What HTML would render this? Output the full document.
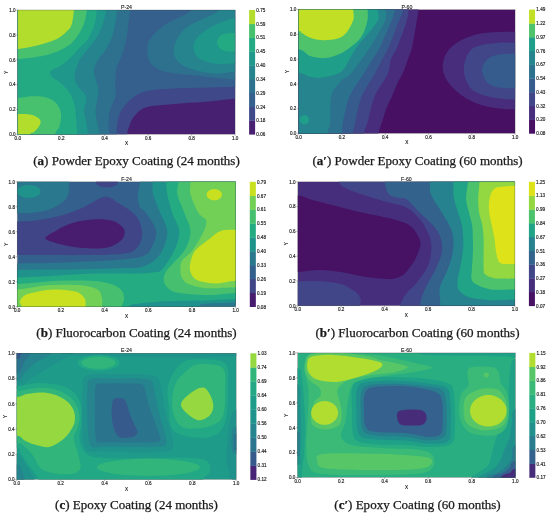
<!DOCTYPE html>
<html><head><meta charset="utf-8"><style>
html,body{margin:0;padding:0;background:#fff;}
body{width:550px;height:517px;position:relative;overflow:hidden;}
svg{position:absolute;left:0;top:0;}
.tk{font-family:"Liberation Sans",sans-serif;font-size:4.6px;fill:#1a1a1a;stroke:#1a1a1a;stroke-width:0.15px;}
.tt{font-family:"Liberation Sans",sans-serif;font-size:5.2px;fill:#1a1a1a;stroke:#1a1a1a;stroke-width:0.12px;}
.cap{position:absolute;font-family:"Liberation Serif","DejaVu Serif",serif;font-size:12px;color:#1a1a1a;-webkit-text-stroke:0.25px #1a1a1a;white-space:nowrap;text-align:center;letter-spacing:0px;transform:scaleX(1.085);transform-origin:center;}
.cap b{font-weight:bold;}
</style></head><body>
<svg width="550" height="517" viewBox="0 0 550 517">
<clipPath id="ca"><rect x="17.8" y="10" width="217.3" height="124.3"/></clipPath>
<g clip-path="url(#ca)">
<rect x="17.8" y="10" width="217.3" height="124.3" fill="#482071"/>
<path fill="#3f4889" d="M235.1,98.8C226.4,99.2 217.7,100.6 209.0,101.4C200.3,102.1 190.9,102.6 182.9,103.2C175.0,103.8 167.0,104.5 161.2,105.1C155.4,105.7 151.8,105.8 148.2,106.7C144.6,107.6 142.0,108.8 139.5,110.7C137.0,112.6 134.7,115.4 133.0,118.1C131.2,120.8 130.0,124.1 129.1,126.8C128.1,129.5 127.4,130.6 127.1,134.3C126.8,138.0 127.1,149.2 127.1,149.2L-8.3,149.2L-8.3,-4.9L261.2,-4.9L261.2,98.8C261.2,98.8 243.8,98.3 235.1,98.8Z"/>
<path fill="#355f8d" d="M235.1,86.8C226.5,86.9 220.6,87.3 209.7,87.6C198.8,87.9 179.9,88.1 169.7,88.7C159.5,89.2 154.2,89.6 148.4,90.8C142.6,92.0 138.9,93.7 135.1,96.0C131.4,98.3 128.3,101.6 125.8,104.5C123.3,107.3 121.3,110.1 119.9,113.2C118.5,116.3 117.9,119.6 117.3,123.1C116.8,126.6 116.8,129.9 116.7,134.3C116.6,138.7 116.7,149.2 116.7,149.2L-8.3,149.2L-8.3,-4.9L261.2,-4.9L261.2,86.8C261.2,86.8 243.7,86.7 235.1,86.8Z"/>
<path fill="#2d718e" d="M130.1,10.0C129.8,15.0 128.8,20.1 128.2,24.9C127.6,29.7 127.5,34.0 126.5,39.0C125.4,43.9 123.8,49.9 122.1,54.7C120.4,59.6 117.5,64.0 116.5,67.9C115.4,71.9 115.8,75.4 115.6,78.4C115.4,81.3 115.2,82.9 115.2,85.8C115.2,88.8 116.4,92.1 115.6,96.0C114.8,100.0 111.3,105.1 110.2,109.4C109.0,113.7 108.8,117.7 108.6,121.9C108.5,126.0 109.0,129.7 109.1,134.3C109.1,138.9 109.1,149.2 109.1,149.2L-8.3,149.2L-8.3,-4.9L130.1,-4.9C130.1,-4.9 130.5,5.0 130.1,10.0Z"/>
<path fill="#2d718e" d="M191.6,10.0C187.4,14.8 172.9,19.2 166.0,23.9C159.1,28.7 153.5,34.2 150.4,38.6C147.2,43.0 147.2,46.2 147.3,50.4C147.4,54.6 148.1,60.1 151.0,63.6C153.9,67.1 156.9,69.5 164.5,71.5C172.0,73.5 184.4,74.2 196.2,75.5C208.0,76.9 224.3,78.9 235.1,79.6C245.9,80.3 261.2,79.6 261.2,79.6L261.2,-4.9L191.6,-4.9C191.6,-4.9 195.9,5.2 191.6,10.0Z"/>
<path fill="#25848e" d="M117.1,10.0C116.7,15.0 115.9,20.1 114.9,24.9C114.0,29.7 112.9,34.6 111.2,39.0C109.5,43.3 106.9,47.6 104.7,51.0C102.5,54.5 100.0,56.6 98.2,59.7C96.4,62.8 94.3,66.6 93.9,69.7C93.4,72.8 94.7,75.3 95.4,78.4C96.1,81.5 97.8,85.2 98.2,88.3C98.6,91.4 98.2,93.3 97.8,97.0C97.3,100.7 95.5,106.5 95.4,110.7C95.3,114.8 96.5,117.9 97.1,121.9C97.8,125.8 98.9,129.7 99.3,134.3C99.6,138.9 99.3,149.2 99.3,149.2L-8.3,149.2L-8.3,-4.9L117.1,-4.9C117.1,-4.9 117.5,5.0 117.1,10.0Z"/>
<path fill="#25848e" d="M219.9,10.0C214.2,15.5 193.6,21.6 186.0,27.9C178.3,34.2 175.3,42.2 174.0,47.8C172.7,53.4 174.8,58.1 178.2,61.7C181.5,65.4 187.7,67.7 194.0,69.7C200.4,71.7 209.3,73.4 216.2,73.6C223.0,73.9 227.6,71.8 235.1,71.4C242.6,71.0 261.2,71.4 261.2,71.4L261.2,-4.9L219.9,-4.9C219.9,-4.9 225.5,4.5 219.9,10.0Z"/>
<path fill="#1f978b" d="M106.0,10.0C105.4,15.0 104.2,20.2 102.5,24.9C100.9,29.7 98.6,34.4 96.0,38.6C93.5,42.7 90.0,46.3 87.3,49.8C84.7,53.2 81.8,56.0 79.9,59.2C78.1,62.5 76.9,66.1 76.0,69.3C75.2,72.5 74.3,75.4 74.7,78.4C75.2,81.3 76.7,84.0 78.6,87.1C80.6,90.2 85.3,93.1 86.2,97.0C87.2,100.9 84.1,106.5 84.1,110.7C84.1,114.8 85.6,117.9 86.2,121.9C86.9,125.8 87.5,129.7 87.8,134.3C88.0,138.9 87.8,149.2 87.8,149.2L-8.3,149.2L-8.3,-4.9L106.0,-4.9C106.0,-4.9 106.6,5.0 106.0,10.0Z"/>
<path fill="#1f978b" d="M235.1,18.0C225.9,19.9 213.1,25.6 206.2,29.9C199.3,34.2 195.2,39.2 193.8,43.8C192.5,48.5 194.4,54.4 198.2,57.7C201.9,61.0 210.0,62.8 216.2,63.7C222.4,64.6 227.6,63.3 235.1,63.2C242.6,63.1 261.2,63.2 261.2,63.2L261.2,18.0C261.2,18.0 244.3,16.0 235.1,18.0Z"/>
<path fill="#24aa83" d="M96.7,10.0C96.3,15.0 95.8,19.9 94.3,24.9C92.7,29.9 89.7,36.1 87.3,39.8C84.9,43.6 82.5,44.6 79.9,47.3C77.4,50.0 75.2,53.0 72.1,56.0C69.0,59.0 64.5,63.0 61.3,65.3C58.0,67.6 54.5,68.5 52.6,69.7C50.7,70.8 50.0,70.9 50.0,72.2C49.9,73.4 50.3,75.3 52.1,77.1C54.0,79.0 58.1,80.6 61.0,83.3C64.0,86.0 67.7,89.8 70.0,93.3C72.2,96.8 73.3,100.5 74.3,104.5C75.3,108.4 75.6,111.9 76.0,116.9C76.5,121.9 76.8,128.9 76.9,134.3C77.1,139.7 76.9,149.2 76.9,149.2L-8.3,149.2L-8.3,-4.9L96.7,-4.9C96.7,-4.9 97.1,5.0 96.7,10.0Z"/>
<path fill="#24aa83" d="M217.1,42.3C217.1,40.2 218.3,37.6 219.9,36.1C221.4,34.7 223.9,34.1 226.4,33.6C228.9,33.1 229.3,32.8 235.1,33.0C240.9,33.2 261.2,34.9 261.2,34.9L261.2,51.0C261.2,51.0 240.9,51.6 235.1,51.6C229.3,51.7 228.9,51.8 226.4,51.3C223.9,50.7 221.4,50.0 219.9,48.5C218.3,47.0 217.1,44.4 217.1,42.3Z"/>
<path fill="#48c16e" d="M86.7,10.0C86.1,15.0 85.5,19.9 83.4,24.9C81.4,29.9 77.5,36.1 74.5,39.8C71.5,43.6 70.1,44.8 65.6,47.3C61.1,49.8 55.5,52.8 47.6,54.7C39.6,56.7 27.1,58.3 17.8,59.0C8.5,59.7 -8.3,59.0 -8.3,59.0L-8.3,-4.9L86.7,-4.9C86.7,-4.9 87.2,5.0 86.7,10.0Z"/>
<path fill="#48c16e" d="M17.8,97.9C24.6,97.6 27.8,96.3 32.8,96.3C37.8,96.3 43.6,96.6 47.6,97.9C51.6,99.1 54.5,101.1 56.7,103.8C58.9,106.6 60.6,110.5 61.0,114.2C61.5,117.9 60.5,122.6 59.5,126.0C58.5,129.3 55.9,130.4 55.2,134.3C54.5,138.2 55.2,149.2 55.2,149.2L-8.3,149.2L-8.3,97.9C-8.3,97.9 11.0,98.1 17.8,97.9Z"/>
<path fill="#b2dd2d" d="M73.9,10.0C73.5,15.0 72.8,21.2 71.5,24.9C70.1,28.6 68.3,29.9 65.6,32.4C62.9,34.9 59.9,37.6 55.2,39.8C50.4,42.0 43.4,44.0 37.1,45.5C30.9,47.1 25.4,48.3 17.8,48.9C10.2,49.5 -8.3,48.9 -8.3,48.9L-8.3,-4.9L73.9,-4.9C73.9,-4.9 74.3,5.0 73.9,10.0Z"/>
<path fill="#b2dd2d" d="M17.8,114.0C24.3,114.1 27.4,114.0 30.8,114.7C34.3,115.3 36.8,116.8 38.4,118.1C40.1,119.4 40.7,120.8 40.6,122.5C40.5,124.1 39.0,126.4 37.8,128.1C36.6,129.7 34.7,131.4 33.4,132.4C32.2,133.5 30.9,131.5 30.4,134.3C29.9,137.1 30.4,149.2 30.4,149.2L-8.3,149.2L-8.3,114.0C-8.3,114.0 11.3,113.9 17.8,114.0Z"/>
</g>
<rect x="17.8" y="10" width="217.3" height="124.3" fill="none" stroke="#333" stroke-opacity="0.55" stroke-width="0.5"/>
<path d="M17.8,134.30h-1.6M17.80,134.3v1.6M17.8,109.44h-1.6M61.26,134.3v1.6M17.8,84.58h-1.6M104.72,134.3v1.6M17.8,59.72h-1.6M148.18,134.3v1.6M17.8,34.86h-1.6M191.64,134.3v1.6M17.8,10.00h-1.6M235.10,134.3v1.6" stroke="#555" stroke-width="0.4" fill="none"/>
<rect x="249.119" y="120.49" width="6.00829" height="14.11" fill="#482071"/>
<rect x="249.119" y="106.68" width="6.00829" height="14.11" fill="#3f4889"/>
<rect x="249.119" y="92.87" width="6.00829" height="14.11" fill="#355f8d"/>
<rect x="249.119" y="79.06" width="6.00829" height="14.11" fill="#2d718e"/>
<rect x="249.119" y="65.24" width="6.00829" height="14.11" fill="#25848e"/>
<rect x="249.119" y="51.43" width="6.00829" height="14.11" fill="#1f978b"/>
<rect x="249.119" y="37.62" width="6.00829" height="14.11" fill="#24aa83"/>
<rect x="249.119" y="23.81" width="6.00829" height="14.11" fill="#48c16e"/>
<rect x="249.119" y="10.00" width="6.00829" height="14.11" fill="#b2dd2d"/>
<clipPath id="ca2"><rect x="298.6" y="9.6" width="216.5" height="123.8"/></clipPath>
<g clip-path="url(#ca2)">
<rect x="298.6" y="9.6" width="216.5" height="123.8" fill="#471063"/>
<path fill="#472d7b" d="M418.5,9.6C418.2,14.1 417.6,15.9 416.6,22.0C415.5,28.1 413.7,40.2 412.3,46.4C410.8,52.6 409.4,54.9 407.9,59.1C406.5,63.3 405.4,67.4 403.6,71.5C401.8,75.6 399.0,79.8 397.1,83.9C395.2,88.0 393.9,92.0 392.1,96.1C390.3,100.3 387.9,104.5 386.3,108.6C384.7,112.8 383.7,116.9 382.4,121.0C381.1,125.1 379.1,128.9 378.5,133.4C377.8,137.9 378.5,148.3 378.5,148.3L272.6,148.3L272.6,-5.3L418.5,-5.3C418.5,-5.3 418.9,5.1 418.5,9.6Z"/>
<path fill="#472d7b" d="M442.6,66.5C442.6,61.7 444.7,55.9 447.3,51.8C449.9,47.7 453.9,44.5 458.2,41.8C462.4,39.1 467.7,37.0 472.9,35.5C478.1,33.9 482.3,33.2 489.3,32.6C496.4,32.0 506.5,31.9 515.1,31.8C523.7,31.6 541.1,31.8 541.1,31.8L541.1,109.4C541.1,109.4 522.2,109.5 515.1,109.4C508.0,109.2 504.5,109.3 498.6,108.5C492.8,107.8 486.4,106.9 480.2,104.8C474.1,102.7 467.3,99.6 461.8,95.6C456.4,91.7 450.5,85.9 447.3,81.0C444.1,76.2 442.6,71.4 442.6,66.5Z"/>
<path fill="#404688" d="M408.6,9.6C408.2,14.1 408.3,15.9 406.4,22.0C404.6,28.1 400.1,40.2 397.5,46.4C395.0,52.6 392.7,54.6 391.0,59.1C389.4,63.7 390.5,67.6 387.8,73.7C385.1,79.9 378.1,88.3 374.8,96.1C371.5,104.0 369.7,114.8 367.9,121.0C366.1,127.2 364.6,128.9 364.0,133.4C363.3,137.9 364.0,148.3 364.0,148.3L272.6,148.3L272.6,-5.3L408.6,-5.3C408.6,-5.3 408.9,5.1 408.6,9.6Z"/>
<path fill="#404688" d="M463.8,69.3C463.8,63.5 466.5,55.8 469.2,51.8C471.9,47.9 475.3,47.0 480.2,45.5C485.2,44.0 492.8,43.2 498.6,42.8C504.5,42.3 508.0,42.8 515.1,42.8C522.2,42.8 541.1,42.8 541.1,42.8L541.1,99.4C541.1,99.4 522.2,99.5 515.1,99.4C508.0,99.2 504.5,99.4 498.6,98.5C492.8,97.6 485.2,95.9 480.2,93.9C475.3,91.9 471.9,90.7 469.2,86.6C466.5,82.5 463.8,75.1 463.8,69.3Z"/>
<path fill="#365c8d" d="M403.2,9.6C402.4,14.1 401.0,15.9 398.6,22.0C396.2,28.1 391.6,40.2 388.9,46.4C386.2,52.6 384.7,54.6 382.4,59.1C380.0,63.7 378.2,67.6 374.8,73.7C371.4,79.9 365.0,88.3 361.8,96.1C358.6,104.0 357.0,114.8 355.5,121.0C354.1,127.2 353.4,128.9 352.9,133.4C352.5,137.9 352.9,148.3 352.9,148.3L272.6,148.3L272.6,-5.3L403.2,-5.3C403.2,-5.3 403.9,5.1 403.2,9.6Z"/>
<path fill="#365c8d" d="M482.0,70.1C482.0,66.2 484.8,61.7 487.6,59.1C490.4,56.5 494.1,55.4 498.6,54.5C503.2,53.6 508.0,53.8 515.1,53.7C522.2,53.5 541.1,53.7 541.1,53.7L541.1,88.3C541.1,88.3 522.2,88.5 515.1,88.3C508.0,88.2 503.2,88.4 498.6,87.5C494.1,86.6 490.4,85.8 487.6,82.9C484.8,80.0 482.0,74.1 482.0,70.1Z"/>
<path fill="#2c718e" d="M394.9,9.6C394.3,14.1 393.5,15.9 391.0,22.0C388.6,28.1 383.3,40.2 380.2,46.4C377.2,52.6 375.4,54.6 372.6,59.1C369.9,63.7 367.4,67.6 363.6,73.7C359.7,79.9 353.1,88.3 349.7,96.1C346.3,104.0 344.5,114.8 343.2,121.0C341.9,127.2 342.3,128.9 342.1,133.4C341.9,137.9 342.1,148.3 342.1,148.3L272.6,148.3L272.6,-5.3L394.9,-5.3C394.9,-5.3 395.6,5.1 394.9,9.6Z"/>
<path fill="#25848e" d="M385.8,9.6C385.6,14.1 387.1,15.9 384.6,22.0C382.0,28.1 374.3,40.2 370.5,46.4C366.7,52.6 365.1,54.6 361.8,59.1C358.5,63.7 354.3,70.0 350.8,73.7C347.2,77.4 343.6,77.7 340.4,81.4C337.1,85.1 333.0,89.5 331.3,96.1C329.6,102.7 330.8,114.8 330.2,121.0C329.6,127.2 328.0,128.9 327.6,133.4C327.2,137.9 327.6,148.3 327.6,148.3L272.6,148.3L272.6,-5.3L385.8,-5.3C385.8,-5.3 386.1,5.1 385.8,9.6Z"/>
<path fill="#1f9e89" d="M377.6,9.6C377.5,14.1 380.4,15.9 377.0,22.0C373.6,28.1 361.8,40.2 357.3,46.4C352.7,52.6 351.9,55.4 349.7,59.1C347.5,62.9 346.1,66.3 344.1,68.8C342.0,71.2 341.5,72.2 337.6,73.7C333.6,75.2 324.9,77.4 320.2,77.8C315.6,78.3 313.0,77.3 309.4,76.5C305.8,75.6 304.7,73.4 298.6,72.7C292.5,72.1 272.6,72.7 272.6,72.7L272.6,-5.3L377.6,-5.3C377.6,-5.3 377.7,5.1 377.6,9.6Z"/>
<path fill="#1f9e89" d="M309.2,119.8C309.2,119.2 309.1,118.5 308.8,118.0C308.6,117.4 308.2,116.9 307.8,116.5C307.4,116.0 306.8,115.7 306.3,115.4C305.7,115.2 305.1,115.1 304.4,115.1C303.8,115.1 303.2,115.2 302.6,115.4C302.1,115.7 301.5,116.0 301.1,116.5C300.6,116.9 300.3,117.4 300.0,118.0C299.8,118.5 299.7,119.2 299.7,119.8C299.7,120.4 299.8,121.0 300.0,121.6C300.3,122.1 300.6,122.7 301.1,123.1C301.5,123.5 302.1,123.9 302.6,124.1C303.2,124.4 303.8,124.5 304.4,124.5C305.1,124.5 305.7,124.4 306.3,124.1C306.8,123.9 307.4,123.5 307.8,123.1C308.2,122.7 308.6,122.1 308.8,121.6C309.1,121.0 309.2,120.4 309.2,119.8Z"/>
<path fill="#4ec36b" d="M367.7,9.6C367.6,14.1 368.3,17.4 367.2,22.0C366.2,26.5 364.3,32.5 361.4,36.8C358.4,41.2 353.4,45.0 349.5,48.0C345.5,51.0 341.7,53.1 337.6,54.8C333.4,56.5 329.1,57.9 324.6,58.1C320.0,58.3 314.6,57.5 310.3,56.0C306.0,54.5 304.9,50.4 298.6,49.2C292.3,48.1 272.6,49.2 272.6,49.2L272.6,-5.3L367.7,-5.3C367.7,-5.3 367.7,5.1 367.7,9.6Z"/>
<path fill="#c0df25" d="M353.2,9.6C353.3,13.3 353.9,14.7 353.8,16.8C353.7,18.8 353.7,19.3 352.5,22.0C351.3,24.6 348.9,30.0 346.4,32.8C344.0,35.5 341.6,37.3 337.8,38.6C333.9,39.8 327.9,40.4 323.3,40.3C318.7,40.2 313.9,39.1 310.3,37.8C306.6,36.6 303.4,33.8 301.4,32.8C299.5,31.7 303.4,31.5 298.6,31.3C293.8,31.0 272.6,31.3 272.6,31.3L272.6,-5.3L353.2,-5.3C353.2,-5.3 353.0,5.9 353.2,9.6Z"/>
</g>
<rect x="298.6" y="9.6" width="216.5" height="123.8" fill="none" stroke="#333" stroke-opacity="0.55" stroke-width="0.5"/>
<path d="M298.6,133.40h-1.6M298.60,133.4v1.6M298.6,108.64h-1.6M341.90,133.4v1.6M298.6,83.88h-1.6M385.20,133.4v1.6M298.6,59.12h-1.6M428.50,133.4v1.6M298.6,34.36h-1.6M471.80,133.4v1.6M298.6,9.60h-1.6M515.10,133.4v1.6" stroke="#555" stroke-width="0.4" fill="none"/>
<rect x="529.068" y="119.64" width="5.98618" height="14.06" fill="#471063"/>
<rect x="529.068" y="105.89" width="5.98618" height="14.06" fill="#472d7b"/>
<rect x="529.068" y="92.13" width="5.98618" height="14.06" fill="#404688"/>
<rect x="529.068" y="78.38" width="5.98618" height="14.06" fill="#365c8d"/>
<rect x="529.068" y="64.62" width="5.98618" height="14.06" fill="#2c718e"/>
<rect x="529.068" y="50.87" width="5.98618" height="14.06" fill="#25848e"/>
<rect x="529.068" y="37.11" width="5.98618" height="14.06" fill="#1f9e89"/>
<rect x="529.068" y="23.36" width="5.98618" height="14.06" fill="#4ec36b"/>
<rect x="529.068" y="9.60" width="5.98618" height="14.06" fill="#c0df25"/>
<clipPath id="cb"><rect x="17.2" y="181.8" width="218.5" height="124.9"/></clipPath>
<g clip-path="url(#cb)">
<rect x="17.2" y="181.8" width="218.5" height="124.9" fill="#34608d"/>
<path fill="#404588" d="M17.2,221.4C24.7,221.2 29.4,221.4 36.2,220.5C43.1,219.7 52.7,217.6 58.3,216.3C63.8,215.0 65.3,214.3 69.6,212.8C74.0,211.2 78.4,209.7 84.3,207.0C90.1,204.4 99.2,197.5 104.8,196.8C110.4,196.1 113.5,200.2 117.9,202.7C122.3,205.1 127.8,208.6 131.3,211.4C134.7,214.2 136.6,215.9 138.5,219.3C140.3,222.7 141.8,228.0 142.2,231.8C142.5,235.5 142.0,238.6 140.7,241.8C139.3,244.9 136.8,248.5 134.1,250.5C131.4,252.5 129.2,252.9 124.3,253.6C119.3,254.3 111.5,254.6 104.6,254.9C97.7,255.1 91.9,255.1 82.8,255.1C73.6,255.2 60.9,255.1 50.0,255.1C39.0,255.1 27.0,255.1 17.2,255.1C7.4,255.1 -9.0,255.1 -9.0,255.1L-9.0,221.4C-9.0,221.4 9.7,221.5 17.2,221.4Z"/>
<path fill="#404588" d="M96.1,181.8C96.5,184.9 96.7,184.6 98.5,185.5C100.3,186.5 103.9,187.3 106.8,187.3C109.6,187.3 113.7,186.5 115.5,185.5C117.4,184.6 117.5,184.9 117.9,181.8C118.3,178.7 117.9,166.8 117.9,166.8L96.1,166.8C96.1,166.8 95.7,178.7 96.1,181.8Z"/>
<path fill="#481c6e" d="M45.2,237.9C45.5,236.2 51.0,233.8 54.3,231.8C57.7,229.7 61.3,227.5 65.3,225.8C69.2,224.1 72.6,222.7 77.9,221.6C83.3,220.6 91.5,219.4 97.4,219.3C103.3,219.2 109.2,219.9 113.3,221.1C117.5,222.4 120.2,224.9 122.1,226.8C124.0,228.6 124.7,230.2 124.7,232.3C124.7,234.3 124.0,237.0 122.1,239.3C120.2,241.5 116.6,244.0 113.3,245.5C110.1,247.0 107.5,247.8 102.4,248.2C97.3,248.7 88.9,248.5 82.8,248.0C76.6,247.5 70.4,246.5 65.3,245.5C60.2,244.5 55.5,243.0 52.2,241.8C48.8,240.5 44.8,239.5 45.2,237.9Z"/>
<path fill="#2a788e" d="M140.0,181.8C139.6,186.5 137.8,191.1 137.8,195.3C137.8,199.5 138.6,204.1 140.0,207.0C141.4,210.0 143.4,208.9 146.1,213.0C148.8,217.1 155.5,225.5 156.2,231.8C156.8,238.0 151.9,246.6 150.0,250.5C148.2,254.3 147.5,253.6 145.0,254.9C142.5,256.1 140.1,257.2 135.2,258.0C130.3,258.8 124.3,259.2 115.5,259.9C106.8,260.5 93.7,261.2 82.8,261.7C71.8,262.3 60.9,262.7 50.0,263.0C39.0,263.3 27.0,263.3 17.2,263.4C7.4,263.4 -9.0,263.4 -9.0,263.4L-9.0,321.7L261.9,321.7L261.9,166.8L140.0,166.8C140.0,166.8 140.4,177.1 140.0,181.8Z"/>
<path fill="#2a788e" d="M69.0,181.8C68.9,186.2 69.5,189.7 68.5,193.0C67.6,196.4 66.2,199.1 63.1,201.8C60.0,204.5 54.5,207.5 50.0,209.3C45.5,211.0 41.7,211.6 36.2,212.3C30.7,212.9 24.7,213.1 17.2,213.3C9.7,213.4 -9.0,213.3 -9.0,213.3L-9.0,166.8L69.0,166.8C69.0,166.8 69.1,177.4 69.0,181.8Z"/>
<path fill="#20928c" d="M152.7,181.8C152.7,186.4 151.8,189.1 153.1,194.3C154.4,199.5 158.0,206.8 160.3,213.0C162.7,219.3 167.0,225.5 167.3,231.8C167.6,238.0 164.7,245.5 162.3,250.5C159.8,255.5 156.5,258.9 152.7,261.7C148.9,264.5 143.9,266.3 139.6,267.4C135.2,268.4 135.9,267.7 126.5,268.0C117.0,268.3 95.5,269.0 82.8,269.2C70.0,269.5 60.9,269.4 50.0,269.5C39.0,269.6 27.0,269.8 17.2,269.9C7.4,269.9 -9.0,269.9 -9.0,269.9L-9.0,321.7L198.6,321.7C198.6,321.7 197.1,309.7 198.6,306.7C200.0,303.7 202.9,304.2 207.3,303.6C211.7,303.0 220.0,303.1 224.8,303.0C229.5,302.8 229.5,302.6 235.7,302.6C241.9,302.5 261.9,302.6 261.9,302.6L261.9,166.8L152.7,166.8C152.7,166.8 152.6,177.2 152.7,181.8Z"/>
<path fill="#20928c" d="M40.6,191.4C40.6,190.6 40.3,189.7 39.7,188.9C39.1,188.2 38.2,187.4 37.1,186.8C36.1,186.2 34.7,185.7 33.3,185.4C31.9,185.1 30.3,184.9 28.8,184.9C27.3,184.9 25.7,185.1 24.3,185.4C22.9,185.7 21.5,186.2 20.4,186.8C19.4,187.4 18.5,188.2 17.9,188.9C17.3,189.7 17.0,191.4 17.0,191.4C17.0,191.4 17.3,193.1 17.9,193.9C18.5,194.7 19.4,195.4 20.4,196.0C21.5,196.6 22.9,197.1 24.3,197.4C25.7,197.7 27.3,197.9 28.8,197.9C30.3,197.9 31.9,197.7 33.3,197.4C34.7,197.1 36.1,196.6 37.1,196.0C38.2,195.4 39.1,194.7 39.7,193.9C40.3,193.1 40.6,192.2 40.6,191.4Z"/>
<path fill="#25ab82" d="M166.2,181.8C166.4,186.4 166.3,189.1 167.3,194.3C168.3,199.5 170.3,206.8 172.3,213.0C174.3,219.3 179.0,225.5 179.3,231.8C179.7,238.0 177.1,244.2 174.3,250.5C171.5,256.7 165.9,265.6 162.3,269.2C158.7,272.9 156.8,271.6 152.7,272.4C148.5,273.1 143.6,273.4 137.4,273.6C131.2,273.8 124.6,273.5 115.5,273.6C106.4,273.7 93.7,273.6 82.8,274.0C71.8,274.4 60.9,275.5 50.0,276.1C39.0,276.7 27.0,277.3 17.2,277.6C7.4,277.8 -9.0,277.6 -9.0,277.6L-9.0,321.7L128.6,321.7C128.6,321.7 126.8,309.7 128.6,306.7C130.5,303.7 134.8,304.4 139.6,303.6C144.4,302.7 150.6,302.2 157.5,301.7C164.4,301.2 173.1,301.0 181.1,300.8C189.0,300.6 196.0,300.7 205.1,300.5C214.2,300.2 226.2,299.4 235.7,299.2C245.2,299.0 261.9,299.2 261.9,299.2L261.9,166.8L166.2,166.8C166.2,166.8 166.0,177.2 166.2,181.8Z"/>
<path fill="#46c06f" d="M178.5,181.8C178.3,186.4 176.4,189.1 177.4,194.3C178.3,199.5 182.2,206.8 184.4,213.0C186.5,219.3 190.5,225.5 190.5,231.8C190.5,238.0 188.3,244.0 184.4,250.5C180.4,256.9 170.3,265.3 166.9,270.5C163.5,275.7 163.5,278.5 164.0,281.7C164.6,284.9 167.3,287.9 170.1,289.8C173.0,291.8 174.4,292.4 181.1,293.2C187.8,294.1 201.2,295.0 210.4,295.0C219.5,294.9 227.1,293.3 235.7,293.0C244.3,292.6 261.9,293.0 261.9,293.0L261.9,166.8L178.5,166.8C178.5,166.8 178.6,177.2 178.5,181.8Z"/>
<path fill="#46c06f" d="M17.2,284.1C28.4,283.6 45.8,281.4 58.1,280.8C70.4,280.3 82.2,280.3 91.1,280.8C99.9,281.4 105.8,282.4 110.9,284.1C116.1,285.7 119.7,288.2 121.9,290.7C124.0,293.3 124.0,296.8 124.0,299.5C124.0,302.1 122.2,303.0 121.9,306.7C121.5,310.4 121.9,321.7 121.9,321.7L-9.0,321.7L-9.0,284.1C-9.0,284.1 6.0,284.6 17.2,284.1Z"/>
<path fill="#73d056" d="M190.5,181.8C190.5,186.4 189.1,189.1 190.5,194.3C191.8,199.5 195.9,208.7 198.6,213.0C201.2,217.4 205.4,217.4 206.2,220.5C207.0,223.6 205.9,226.8 203.6,231.8C201.3,236.8 196.0,245.7 192.4,250.5C188.9,255.3 184.2,257.4 182.2,260.5C180.2,263.6 180.5,266.5 180.4,269.2C180.3,271.9 180.2,274.2 181.5,276.7C182.9,279.2 184.3,282.2 188.5,284.1C192.7,286.0 198.8,287.7 206.6,288.2C214.5,288.7 226.5,287.4 235.7,287.2C244.9,287.0 261.9,287.2 261.9,287.2L261.9,166.8L190.5,166.8C190.5,166.8 190.5,177.2 190.5,181.8Z"/>
<path fill="#73d056" d="M17.2,289.6C26.6,288.9 36.6,285.9 47.1,285.2C57.6,284.5 71.7,284.5 80.1,285.2C88.5,285.9 94.0,287.4 97.6,289.6C101.2,291.8 101.2,295.5 102.0,298.3C102.7,301.2 102.0,302.8 102.0,306.7C102.0,310.6 102.0,321.7 102.0,321.7L-9.0,321.7L-9.0,289.6C-9.0,289.6 7.8,290.3 17.2,289.6Z"/>
<path fill="#c8e020" d="M189.8,268.5C189.5,264.9 190.9,259.9 192.0,256.7C193.1,253.5 193.6,252.1 196.4,249.2C199.1,246.4 204.6,242.5 208.6,239.5C212.6,236.5 216.1,232.6 220.6,231.0C225.1,229.4 228.8,230.0 235.7,229.8C242.6,229.6 261.9,229.8 261.9,229.8L261.9,280.7C261.9,280.7 243.2,280.3 235.7,280.7C228.2,281.2 222.5,283.2 217.1,283.5C211.8,283.7 207.4,283.0 203.6,282.1C199.7,281.2 196.3,280.2 194.0,278.0C191.7,275.7 190.1,272.0 189.8,268.5Z"/>
<path fill="#c8e020" d="M221.9,194.7C221.9,193.9 221.7,193.2 221.4,192.5C221.0,191.9 220.4,191.2 219.7,190.7C219.0,190.2 218.1,189.7 217.2,189.5C216.3,189.2 215.3,189.0 214.3,189.0C213.3,189.0 212.3,189.2 211.4,189.5C210.5,189.7 209.6,190.2 208.9,190.7C208.2,191.2 207.6,191.9 207.2,192.5C206.8,193.2 206.6,193.9 206.6,194.7C206.6,195.4 206.8,196.2 207.2,196.8C207.6,197.5 208.2,198.1 208.9,198.6C209.6,199.1 210.5,199.6 211.4,199.9C212.3,200.1 213.3,200.3 214.3,200.3C215.3,200.3 216.3,200.1 217.2,199.9C218.1,199.6 219.0,199.1 219.7,198.6C220.4,198.1 221.0,197.5 221.4,196.8C221.7,196.2 221.9,195.4 221.9,194.7Z"/>
<path fill="#c8e020" d="M21.6,306.7C21.3,303.4 19.5,303.5 19.8,301.7C20.2,299.9 21.8,297.5 23.8,296.1C25.8,294.6 26.9,294.0 31.8,293.0C36.8,291.9 46.4,289.8 53.7,289.6C61.0,289.4 70.6,290.4 75.8,291.8C80.9,293.3 82.9,295.9 84.5,298.3C86.1,300.8 85.4,302.8 85.6,306.7C85.8,310.6 85.6,321.7 85.6,321.7L21.6,321.7C21.6,321.7 21.9,310.0 21.6,306.7Z"/>
</g>
<rect x="17.2" y="181.8" width="218.5" height="124.9" fill="none" stroke="#333" stroke-opacity="0.55" stroke-width="0.5"/>
<path d="M17.2,306.70h-1.6M17.20,306.7v1.6M17.2,281.72h-1.6M60.90,306.7v1.6M17.2,256.74h-1.6M104.60,306.7v1.6M17.2,231.76h-1.6M148.30,306.7v1.6M17.2,206.78h-1.6M192.00,306.7v1.6M17.2,181.80h-1.6M235.70,306.7v1.6" stroke="#555" stroke-width="0.4" fill="none"/>
<rect x="249.797" y="292.82" width="6.04147" height="14.18" fill="#481c6e"/>
<rect x="249.797" y="278.94" width="6.04147" height="14.18" fill="#404588"/>
<rect x="249.797" y="265.07" width="6.04147" height="14.18" fill="#34608d"/>
<rect x="249.797" y="251.19" width="6.04147" height="14.18" fill="#2a788e"/>
<rect x="249.797" y="237.31" width="6.04147" height="14.18" fill="#20928c"/>
<rect x="249.797" y="223.43" width="6.04147" height="14.18" fill="#25ab82"/>
<rect x="249.797" y="209.56" width="6.04147" height="14.18" fill="#46c06f"/>
<rect x="249.797" y="195.68" width="6.04147" height="14.18" fill="#73d056"/>
<rect x="249.797" y="181.80" width="6.04147" height="14.18" fill="#c8e020"/>
<clipPath id="cb2"><rect x="297.8" y="181.8" width="217.1" height="124"/></clipPath>
<g clip-path="url(#cb2)">
<rect x="297.8" y="181.8" width="217.1" height="124" fill="#472e7c"/>
<path fill="#471164" d="M297.8,195.6C304.2,196.1 303.9,197.5 310.0,199.2C316.0,200.8 326.0,203.5 334.1,205.6C342.1,207.7 350.1,209.9 358.2,211.8C366.2,213.7 375.6,215.3 382.5,216.8C389.3,218.3 394.8,219.5 399.2,220.9C403.6,222.2 406.2,223.1 409.0,225.0C411.7,226.8 413.8,228.8 415.7,231.9C417.6,235.0 420.5,239.4 420.5,243.8C420.5,248.2 417.3,254.6 415.7,258.3C414.1,262.0 412.6,263.5 410.7,266.1C408.8,268.8 406.7,272.2 404.2,274.2C401.6,276.2 398.4,277.5 395.5,278.3C392.6,279.1 391.9,279.3 386.8,279.0C381.7,278.8 372.1,277.9 364.7,276.8C357.2,275.7 349.7,273.4 342.3,272.3C334.9,271.2 327.6,270.1 320.2,270.1C312.7,270.0 305.9,271.7 297.8,272.1C289.7,272.4 271.7,272.1 271.7,272.1L271.7,195.8C271.7,195.8 291.4,195.0 297.8,195.6Z"/>
<path fill="#404688" d="M338.8,181.8C340.2,185.4 342.6,186.5 346.9,188.7C351.2,191.0 358.0,193.1 364.7,195.3C371.3,197.5 380.2,200.1 386.8,202.0C393.4,203.9 399.6,204.5 404.4,206.6C409.2,208.7 412.3,211.4 415.7,214.7C419.1,218.0 422.2,221.6 424.8,226.4C427.4,231.3 430.8,237.3 431.3,243.8C431.9,250.3 430.6,259.0 428.1,265.6C425.5,272.2 419.7,278.9 416.1,283.5C412.5,288.1 409.1,289.7 406.4,293.4C403.6,297.1 400.9,301.3 399.8,305.8C398.8,310.3 399.8,320.7 399.8,320.7L541.0,320.7L541.0,166.9L338.8,166.9C338.8,166.9 337.5,178.2 338.8,181.8Z"/>
<path fill="#404688" d="M297.8,281.2C306.2,281.2 314.7,280.8 321.9,281.2C329.1,281.7 336.2,282.7 341.2,284.1C346.2,285.5 349.3,287.9 352.1,289.7C354.9,291.4 356.7,292.7 358.2,294.5C359.6,296.4 360.5,299.0 360.8,300.8C361.0,302.7 360.0,302.5 359.9,305.8C359.7,309.1 359.9,320.7 359.9,320.7L271.7,320.7L271.7,281.2C271.7,281.2 289.4,281.2 297.8,281.2Z"/>
<path fill="#33628d" d="M384.6,181.8C385.4,186.3 386.4,191.5 389.0,194.2C391.5,196.9 396.9,197.1 399.8,197.9C402.8,198.8 403.4,196.9 406.8,199.4C410.1,201.9 414.9,207.5 420.0,212.8C425.2,218.1 434.2,225.2 437.8,231.4C441.5,237.6 442.3,243.8 442.0,250.0C441.6,256.2 438.6,262.4 435.9,268.6C433.2,274.8 428.4,282.0 425.9,287.2C423.4,292.4 421.8,296.5 420.9,299.6C420.0,302.7 420.5,302.3 420.5,305.8C420.4,309.3 420.5,320.7 420.5,320.7L541.0,320.7L541.0,166.9L384.6,166.9C384.6,166.9 383.9,177.3 384.6,181.8Z"/>
<path fill="#26828e" d="M430.0,181.8C430.2,186.3 428.9,189.0 430.9,194.2C432.9,199.4 438.4,206.6 442.0,212.8C445.5,219.0 450.1,225.2 451.9,231.4C453.8,237.6 453.7,243.8 453.0,250.0C452.4,256.2 450.2,262.4 448.0,268.6C445.9,274.8 441.3,282.0 440.0,287.2C438.7,292.4 439.9,296.5 440.0,299.6C440.1,302.7 440.4,302.3 440.4,305.8C440.5,309.3 440.4,320.7 440.4,320.7L541.0,320.7L541.0,166.9L430.0,166.9C430.0,166.9 429.9,177.3 430.0,181.8Z"/>
<path fill="#20a386" d="M453.2,181.8C453.4,187.0 453.1,193.1 453.9,198.0C454.7,203.0 456.5,207.1 457.8,211.6C459.1,216.1 461.0,220.6 461.9,225.1C462.8,229.6 463.0,234.3 463.2,238.5C463.4,242.6 463.6,245.0 463.0,250.0C462.5,255.0 460.9,263.4 460.0,268.6C459.0,273.8 457.5,277.3 457.4,281.0C457.3,284.7 457.2,288.0 459.3,290.8C461.5,293.6 465.0,296.0 470.2,297.6C475.4,299.2 482.9,299.9 490.4,300.2C497.8,300.6 506.5,299.7 514.9,299.6C523.3,299.5 541.0,299.6 541.0,299.6L541.0,166.9L453.2,166.9C453.2,166.9 453.1,176.6 453.2,181.8Z"/>
<path fill="#4cc26c" d="M468.0,181.8C467.7,187.0 465.9,193.1 466.1,198.0C466.2,203.0 467.6,207.1 468.7,211.6C469.7,216.1 471.4,220.6 472.1,225.1C472.8,229.6 472.6,234.3 472.8,238.5C472.9,242.6 473.1,245.0 473.0,250.0C472.9,255.0 472.2,263.8 471.9,268.6C471.7,273.4 470.9,275.9 471.5,278.5C472.1,281.1 472.5,282.3 475.6,284.1C478.8,285.9 483.8,288.5 490.4,289.4C496.9,290.3 506.5,289.4 514.9,289.4C523.3,289.4 541.0,289.4 541.0,289.4L541.0,166.9L468.0,166.9C468.0,166.9 468.3,176.6 468.0,181.8Z"/>
<path fill="#93d741" d="M479.5,181.8C479.3,187.0 478.3,193.1 478.2,198.0C478.1,203.0 478.2,207.1 478.9,211.6C479.5,216.1 481.5,220.6 482.3,225.1C483.1,229.6 483.4,234.3 483.6,238.5C483.9,242.6 483.6,245.0 483.6,250.0C483.6,255.0 483.4,264.6 483.6,268.6C483.9,272.6 483.3,272.6 484.9,274.2C486.5,275.7 490.0,277.2 493.2,277.9C496.4,278.6 500.4,278.5 504.0,278.6C507.7,278.8 508.7,278.6 514.9,278.6C521.1,278.6 541.0,278.6 541.0,278.6L541.0,166.9L479.5,166.9C479.5,166.9 479.7,176.6 479.5,181.8Z"/>
<path fill="#dde318" d="M494.5,188.6C496.9,186.7 500.6,187.1 504.0,186.6C507.4,186.2 508.7,186.0 514.9,185.9C521.1,185.8 541.0,185.9 541.0,185.9L541.0,263.9C541.0,263.9 521.1,263.9 514.9,263.9C508.7,263.9 506.8,264.3 504.0,263.9C501.3,263.4 500.0,263.5 498.6,261.2C497.2,258.8 496.5,253.8 495.8,250.0C495.1,246.2 495.2,242.6 494.5,238.5C493.8,234.3 492.6,229.6 491.7,225.1C490.8,220.6 489.4,216.1 489.1,211.6C488.7,207.1 488.8,201.9 489.7,198.0C490.6,194.2 492.1,190.5 494.5,188.6Z"/>
</g>
<rect x="297.8" y="181.8" width="217.1" height="124" fill="none" stroke="#333" stroke-opacity="0.55" stroke-width="0.5"/>
<path d="M297.8,305.80h-1.6M297.80,305.8v1.6M297.8,281.00h-1.6M341.22,305.8v1.6M297.8,256.20h-1.6M384.64,305.8v1.6M297.8,231.40h-1.6M428.06,305.8v1.6M297.8,206.60h-1.6M471.48,305.8v1.6M297.8,181.80h-1.6M514.90,305.8v1.6" stroke="#555" stroke-width="0.4" fill="none"/>
<rect x="528.906" y="292.02" width="6.00276" height="14.08" fill="#471164"/>
<rect x="528.906" y="278.24" width="6.00276" height="14.08" fill="#472e7c"/>
<rect x="528.906" y="264.47" width="6.00276" height="14.08" fill="#404688"/>
<rect x="528.906" y="250.69" width="6.00276" height="14.08" fill="#33628d"/>
<rect x="528.906" y="236.91" width="6.00276" height="14.08" fill="#26828e"/>
<rect x="528.906" y="223.13" width="6.00276" height="14.08" fill="#20a386"/>
<rect x="528.906" y="209.36" width="6.00276" height="14.08" fill="#4cc26c"/>
<rect x="528.906" y="195.58" width="6.00276" height="14.08" fill="#93d741"/>
<rect x="528.906" y="181.80" width="6.00276" height="14.08" fill="#dde318"/>
<clipPath id="cc"><rect x="16.8" y="353.3" width="219.4" height="126.3"/></clipPath>
<g clip-path="url(#cc)">
<rect x="16.8" y="353.3" width="219.4" height="126.3" fill="#1e9c89"/>
<path fill="#20928c" d="M82.6,391.2C83.2,385.5 80.4,378.9 85.9,376.0C91.4,373.2 104.4,374.2 115.5,374.1C126.7,374.0 145.3,373.6 152.8,375.4C160.3,377.2 158.5,379.1 160.5,384.9C162.5,390.7 163.2,402.8 164.9,410.1C166.5,417.5 169.0,423.4 170.4,429.1C171.7,434.8 173.6,440.5 173.0,444.2C172.5,448.0 173.0,450.2 167.1,451.6C161.2,452.9 147.9,452.4 137.5,452.4C127.0,452.5 113.2,452.3 104.6,451.8C96.0,451.3 89.6,453.1 85.9,449.3C82.2,445.5 82.8,435.6 82.2,429.1C81.6,422.6 82.1,416.4 82.2,410.1C82.3,403.8 82.0,396.9 82.6,391.2Z"/>
<path fill="#20928c" d="M16.8,388.7C23.0,387.4 23.4,384.0 27.8,381.1C32.2,378.1 37.6,374.4 43.1,371.0C48.6,367.6 55.6,363.8 60.7,360.9C65.8,357.9 71.7,357.1 73.8,353.3C76.0,349.5 73.8,338.1 73.8,338.1L-9.5,338.1L-9.5,388.7C-9.5,388.7 10.6,389.9 16.8,388.7Z"/>
<path fill="#20928c" d="M60.7,353.3C64.3,356.3 71.6,355.5 82.6,356.1C93.6,356.7 111.9,356.6 126.5,356.8C141.1,357.1 157.6,357.6 170.4,357.7C183.2,357.8 192.3,357.6 203.3,357.3C214.3,357.1 226.3,356.6 236.2,356.5C246.1,356.3 262.5,356.5 262.5,356.5L262.5,338.1L60.7,338.1C60.7,338.1 57.0,350.3 60.7,353.3Z"/>
<path fill="#20928c" d="M16.8,454.3C22.7,456.0 23.0,461.1 25.6,464.4C28.1,467.8 30.7,472.0 32.2,474.5C33.6,477.1 34.0,476.2 34.4,479.6C34.7,483.0 34.4,494.8 34.4,494.8L-9.5,494.8L-9.5,454.3C-9.5,454.3 10.9,452.7 16.8,454.3Z"/>
<path fill="#20928c" d="M236.2,410.1C230.7,412.2 231.1,417.5 229.6,422.8C228.2,428.0 228.0,435.4 227.4,441.7C226.9,448.0 226.0,455.4 226.3,460.7C226.7,465.9 228.7,470.1 229.6,473.3C230.5,476.4 226.3,476.0 231.8,479.6C237.3,483.2 262.5,494.8 262.5,494.8L262.5,410.1C262.5,410.1 241.7,408.0 236.2,410.1Z"/>
<path fill="#25848e" d="M87.4,391.2C87.9,385.0 85.6,381.5 90.3,379.4C95.0,377.3 105.8,378.6 115.5,378.6C125.2,378.5 142.0,377.5 148.4,379.2C154.8,380.9 152.3,383.5 153.9,388.7C155.6,393.8 156.7,403.4 158.3,410.1C159.9,416.9 162.0,423.8 163.4,429.1C164.7,434.3 166.9,438.8 166.7,441.7C166.4,444.6 166.5,445.6 161.6,446.5C156.7,447.4 147.0,447.1 137.5,447.1C128.0,447.2 112.4,447.1 104.6,446.8C96.7,446.4 93.2,449.9 90.3,444.9C87.4,439.8 87.9,425.4 87.4,416.4C87.0,407.5 87.0,397.4 87.4,391.2Z"/>
<path fill="#25848e" d="M16.8,381.1C22.5,379.8 21.2,376.7 24.5,373.5C27.8,370.4 32.1,365.5 36.5,362.1C41.0,358.8 48.8,357.3 51.2,353.3C53.7,349.3 51.2,338.1 51.2,338.1L-9.5,338.1L-9.5,381.1C-9.5,381.1 11.1,382.3 16.8,381.1Z"/>
<path fill="#25848e" d="M236.2,426.6C231.1,428.0 232.5,431.8 231.8,435.4C231.1,439.0 231.1,444.9 231.8,448.0C232.5,451.2 231.1,453.3 236.2,454.3C241.3,455.4 262.5,454.3 262.5,454.3L262.5,426.6C262.5,426.6 241.3,425.1 236.2,426.6Z"/>
<path fill="#25848e" d="M16.8,464.4C22.1,465.7 21.0,469.5 22.3,472.0C23.6,474.5 24.1,475.8 24.5,479.6C24.8,483.4 24.5,494.8 24.5,494.8L-9.5,494.8L-9.5,464.4C-9.5,464.4 11.5,463.2 16.8,464.4Z"/>
<path fill="#2b748e" d="M95.1,391.2C95.5,385.8 95.3,385.6 96.9,384.2C98.5,382.9 99.6,383.4 104.6,383.2C109.5,383.1 120.3,383.1 126.5,383.2C132.7,383.4 138.7,383.1 141.9,384.2C145.0,385.4 144.1,386.7 145.1,389.9C146.2,393.2 147.1,399.4 148.4,403.8C149.8,408.2 151.6,412.2 153.0,416.4C154.5,420.7 156.0,425.5 157.2,429.1C158.4,432.7 160.3,435.8 160.3,437.9C160.3,440.1 161.0,441.2 157.2,442.0C153.4,442.7 146.2,442.5 137.5,442.6C128.7,442.7 111.4,442.7 104.6,442.3C97.7,442.0 97.8,444.8 96.2,440.4C94.6,436.1 95.1,424.7 94.9,416.4C94.7,408.2 94.8,396.6 95.1,391.2Z"/>
<path fill="#2b748e" d="M16.8,373.5C22.5,371.6 22.3,365.5 24.5,362.1C26.7,358.8 29.0,357.3 30.0,353.3C30.9,349.3 30.0,338.1 30.0,338.1L-9.5,338.1L-9.5,373.5C-9.5,373.5 11.1,375.4 16.8,373.5Z"/>
<path fill="#2b748e" d="M236.2,434.1C231.4,435.0 234.4,437.1 234.0,439.2C233.6,441.3 233.6,444.9 234.0,446.8C234.4,448.7 231.4,449.9 236.2,450.6C241.0,451.2 262.5,450.6 262.5,450.6L262.5,434.1C262.5,434.1 241.0,433.3 236.2,434.1Z"/>
<path fill="#375a8c" d="M113.3,400.0C114.5,397.4 116.8,398.0 118.8,398.1C120.8,398.2 123.6,398.0 125.4,400.7C127.2,403.3 128.3,409.9 129.8,413.9C131.3,418.0 133.3,421.9 134.6,424.9C135.9,428.0 137.7,430.3 137.5,432.2C137.2,434.2 136.0,435.8 133.1,436.7C130.2,437.5 123.1,438.6 119.9,437.3C116.7,436.0 115.4,433.0 114.0,429.1C112.6,425.2 111.7,418.8 111.6,413.9C111.5,409.1 112.1,402.7 113.3,400.0Z"/>
<path fill="#375a8c" d="M16.8,359.0C21.7,358.6 19.3,357.4 20.1,356.5C20.9,355.5 21.2,356.4 21.4,353.3C21.6,350.2 21.4,338.1 21.4,338.1L-9.5,338.1L-9.5,359.0C-9.5,359.0 11.9,359.4 16.8,359.0Z"/>
<path fill="#22a884" d="M16.8,386.1C24.8,385.6 31.4,383.1 38.7,383.0C46.1,382.9 54.8,383.9 60.7,385.5C66.5,387.1 70.6,389.4 73.8,392.5C77.1,395.5 79.1,398.8 80.4,403.8C81.7,408.9 81.7,416.9 81.5,422.8C81.3,428.7 78.4,433.9 79.3,439.2C80.2,444.4 82.8,451.2 87.0,454.3C91.2,457.5 94.3,457.5 104.6,458.1C114.8,458.8 133.8,458.1 148.4,458.1C163.1,458.1 182.4,457.5 192.3,458.1C202.2,458.8 204.8,459.6 207.7,461.9C210.6,464.2 210.6,469.1 209.9,472.0C209.1,475.0 204.4,475.8 203.3,479.6C202.2,483.4 203.3,494.8 203.3,494.8L38.7,494.8C38.7,494.8 40.2,484.2 38.7,479.6C37.3,475.0 32.9,471.2 30.0,467.0C27.0,462.8 23.4,457.5 21.2,454.3C19.0,451.2 21.9,449.1 16.8,448.0C11.7,447.0 -9.5,448.0 -9.5,448.0L-9.5,386.1C-9.5,386.1 8.8,386.7 16.8,386.1Z"/>
<path fill="#22a884" d="M169.3,410.1C168.9,403.4 166.2,392.7 168.2,384.9C170.2,377.1 175.9,367.6 181.4,363.4C186.8,359.2 193.8,359.6 201.1,359.6C208.4,359.6 220.8,359.2 225.2,363.4C229.7,367.6 227.7,376.0 227.9,384.9C228.0,393.7 227.9,408.5 226.3,416.4C224.8,424.4 222.9,429.3 218.6,432.9C214.4,436.4 207.7,437.7 201.1,437.9C194.5,438.1 184.3,436.2 179.2,434.1C174.0,432.0 172.0,429.3 170.4,425.3C168.7,421.3 169.6,416.9 169.3,410.1Z"/>
<path fill="#22a884" d="M119.5,362.8C119.5,361.8 118.9,360.7 117.9,359.8C116.9,358.9 115.3,357.9 113.4,357.2C111.5,356.5 109.1,355.9 106.6,355.5C104.2,355.2 101.3,354.9 98.6,354.9C96.0,354.9 93.1,355.2 90.7,355.5C88.2,355.9 85.8,356.5 83.9,357.2C82.0,357.9 80.4,358.9 79.4,359.8C78.4,360.7 77.8,361.8 77.8,362.8C77.8,363.8 78.4,364.8 79.4,365.8C80.4,366.7 82.0,367.6 83.9,368.3C85.8,369.0 88.2,369.6 90.7,370.0C93.1,370.4 96.0,370.6 98.6,370.6C101.3,370.6 104.2,370.4 106.6,370.0C109.1,369.6 111.5,369.0 113.4,368.3C115.3,367.6 116.9,366.7 117.9,365.8C118.9,364.8 119.5,363.8 119.5,362.8Z"/>
<path fill="#31b57b" d="M16.8,391.2C24.5,390.7 30.7,388.5 36.5,388.0C42.4,387.6 47.2,387.7 51.9,388.7C56.7,389.6 61.3,391.6 65.1,393.7C68.8,395.8 72.0,398.3 74.3,401.3C76.5,404.2 77.8,408.4 78.7,411.4C79.5,414.4 79.6,416.5 79.3,419.5C79.1,422.4 78.0,426.0 77.1,429.1C76.2,432.2 73.7,433.7 73.8,437.9C74.0,442.1 77.1,449.3 78.2,454.3C79.3,459.4 81.5,465.0 80.4,468.2C79.3,471.5 76.0,473.1 71.7,473.9C67.3,474.8 59.2,474.2 54.1,473.3C49.0,472.3 44.6,471.4 40.9,468.2C37.3,465.1 35.1,458.1 32.2,454.3C29.2,450.6 25.9,447.4 23.4,445.5C20.8,443.6 22.3,443.4 16.8,443.0C11.3,442.6 -9.5,443.0 -9.5,443.0L-9.5,391.2C-9.5,391.2 9.1,391.7 16.8,391.2Z"/>
<path fill="#31b57b" d="M199.3,364.3C205.2,363.9 218.3,363.8 222.6,368.1C226.9,372.4 225.0,381.9 225.0,390.1C225.0,398.2 225.6,410.9 222.6,417.1C219.6,423.2 213.5,425.3 206.8,426.9C200.1,428.6 187.9,429.8 182.2,426.9C176.5,424.1 173.8,416.7 172.6,409.8C171.4,402.8 172.5,391.7 175.0,385.1C177.4,378.6 183.2,374.0 187.3,370.5C191.3,367.0 193.5,364.7 199.3,364.3Z"/>
<path fill="#31b57b" d="M115.7,362.8C115.7,362.0 115.3,361.2 114.4,360.5C113.6,359.7 112.3,359.0 110.7,358.5C109.2,357.9 107.2,357.5 105.2,357.2C103.2,356.9 100.8,356.7 98.6,356.7C96.5,356.7 94.1,356.9 92.1,357.2C90.1,357.5 88.1,357.9 86.5,358.5C85.0,359.0 83.7,359.7 82.8,360.5C82.0,361.2 81.5,362.0 81.5,362.8C81.5,363.5 82.0,364.4 82.8,365.1C83.7,365.8 85.0,366.5 86.5,367.1C88.1,367.6 90.1,368.1 92.1,368.4C94.1,368.7 96.5,368.8 98.6,368.8C100.8,368.8 103.2,368.7 105.2,368.4C107.2,368.1 109.2,367.6 110.7,367.1C112.3,366.5 113.6,365.8 114.4,365.1C115.3,364.4 115.7,363.5 115.7,362.8Z"/>
<path fill="#31b57b" d="M200.0,467.3C200.0,466.3 198.6,465.1 196.1,464.1C193.6,463.1 189.5,462.1 184.9,461.3C180.2,460.5 174.2,459.8 168.2,459.4C162.1,459.0 155.0,458.8 148.4,458.8C141.9,458.8 134.8,459.0 128.7,459.4C122.6,459.8 116.6,460.5 112.0,461.3C107.3,462.1 103.3,463.1 100.8,464.1C98.3,465.1 96.9,466.3 96.9,467.3C96.9,468.4 98.3,469.6 100.8,470.6C103.3,471.6 107.3,472.6 112.0,473.4C116.6,474.2 122.6,474.9 128.7,475.3C134.8,475.7 141.9,475.9 148.4,475.9C155.0,475.9 162.1,475.7 168.2,475.3C174.2,474.9 180.2,474.2 184.9,473.4C189.5,472.6 193.6,471.6 196.1,470.6C198.6,469.6 200.0,468.4 200.0,467.3Z"/>
<path fill="#95d840" d="M16.8,396.9C22.7,396.5 22.3,395.0 25.6,394.3C28.9,393.7 32.9,392.9 36.5,392.7C40.2,392.5 43.9,392.4 47.5,393.0C51.2,393.5 55.0,394.6 58.5,396.2C62.0,397.8 65.8,400.1 68.4,402.6C70.9,405.0 72.7,408.0 73.8,410.8C74.9,413.5 75.1,416.3 74.9,419.0C74.8,421.7 74.6,423.6 72.7,426.9C70.9,430.2 67.7,435.4 63.8,438.7C59.8,442.0 54.0,445.9 49.1,446.9C44.2,447.9 38.5,445.7 34.4,444.6C30.2,443.5 27.2,441.7 24.3,440.2C21.3,438.7 22.4,436.5 16.8,435.8C11.2,435.0 -9.5,435.8 -9.5,435.8L-9.5,396.9C-9.5,396.9 10.9,397.3 16.8,396.9Z"/>
<path fill="#95d840" d="M204.2,387.7C208.0,389.1 211.9,397.8 212.9,402.3C214.0,406.8 213.0,411.7 210.3,414.7C207.6,417.6 201.8,421.4 196.9,420.0C192.1,418.6 182.3,410.5 181.1,406.1C179.9,401.7 185.8,396.8 189.7,393.7C193.5,390.6 200.3,386.2 204.2,387.7Z"/>
</g>
<rect x="16.8" y="353.3" width="219.4" height="126.3" fill="none" stroke="#333" stroke-opacity="0.55" stroke-width="0.5"/>
<path d="M16.8,479.60h-1.6M16.80,479.6v1.6M16.8,454.34h-1.6M60.68,479.6v1.6M16.8,429.08h-1.6M104.56,479.6v1.6M16.8,403.82h-1.6M148.44,479.6v1.6M16.8,378.56h-1.6M192.32,479.6v1.6M16.8,353.30h-1.6M236.20,479.6v1.6" stroke="#555" stroke-width="0.4" fill="none"/>
<rect x="250.355" y="465.57" width="6.06636" height="14.33" fill="#482576"/>
<rect x="250.355" y="451.53" width="6.06636" height="14.33" fill="#375a8c"/>
<rect x="250.355" y="437.50" width="6.06636" height="14.33" fill="#2b748e"/>
<rect x="250.355" y="423.47" width="6.06636" height="14.33" fill="#25848e"/>
<rect x="250.355" y="409.43" width="6.06636" height="14.33" fill="#20928c"/>
<rect x="250.355" y="395.40" width="6.06636" height="14.33" fill="#1e9c89"/>
<rect x="250.355" y="381.37" width="6.06636" height="14.33" fill="#22a884"/>
<rect x="250.355" y="367.33" width="6.06636" height="14.33" fill="#31b57b"/>
<rect x="250.355" y="353.30" width="6.06636" height="14.33" fill="#95d840"/>
<clipPath id="cc2"><rect x="297.6" y="352.9" width="217.7" height="124.6"/></clipPath>
<g clip-path="url(#cc2)">
<rect x="297.6" y="352.9" width="217.7" height="124.6" fill="#28ae80"/>
<path fill="#1fa187" d="M352.0,409.0C351.8,400.2 350.6,390.5 353.1,385.3C355.7,380.1 359.1,379.2 367.3,377.8C375.4,376.5 391.2,376.9 402.1,377.2C413.0,377.5 424.4,378.3 432.6,379.7C440.7,381.0 447.4,381.5 451.1,385.3C454.7,389.1 453.9,395.3 454.6,402.7C455.2,410.2 455.4,423.3 454.8,430.2C454.2,437.0 455.5,441.1 451.1,443.9C446.7,446.7 435.7,446.8 428.2,447.0C420.8,447.1 415.9,445.3 406.5,444.9C397.0,444.4 380.3,445.3 371.6,444.1C362.9,442.9 357.5,443.5 354.2,437.6C350.9,431.8 352.2,417.7 352.0,409.0Z"/>
<path fill="#1fa187" d="M417.3,352.9C421.0,355.8 430.0,355.1 439.1,355.6C448.2,356.2 460.9,355.8 471.8,356.0C482.6,356.2 497.2,356.3 504.4,356.6C511.7,356.9 509.1,357.7 515.3,357.9C521.5,358.1 541.4,357.9 541.4,357.9L541.4,337.9L417.3,337.9C417.3,337.9 413.7,350.0 417.3,352.9Z"/>
<path fill="#1fa187" d="M297.6,367.9C302.7,369.5 300.9,372.0 302.0,377.8C303.0,383.6 303.6,394.4 304.1,402.7C304.7,411.0 305.2,419.4 305.2,427.7C305.2,436.0 304.7,445.3 304.1,452.6C303.6,459.8 302.3,467.1 302.0,471.3C301.6,475.4 302.0,474.0 302.0,477.5C302.0,481.0 302.0,492.5 302.0,492.5L271.5,492.5L271.5,367.9C271.5,367.9 292.5,366.2 297.6,367.9Z"/>
<path fill="#1fa187" d="M515.3,359.1C510.0,361.2 511.0,364.3 509.9,371.6C508.7,378.9 509.1,394.4 508.3,402.7C507.6,411.0 507.4,415.8 505.5,421.4C503.6,427.0 499.1,431.0 496.8,436.4C494.5,441.8 493.2,449.0 491.8,453.8C490.3,458.7 490.8,462.0 488.1,465.4C485.4,468.9 478.2,472.5 475.5,474.5C472.7,476.5 472.4,474.5 471.8,477.5C471.1,480.5 471.8,492.5 471.8,492.5L541.4,492.5L541.4,359.1C541.4,359.1 520.6,357.1 515.3,359.1Z"/>
<path fill="#21908d" d="M356.4,409.0C356.2,401.3 355.3,392.4 357.5,387.8C359.6,383.2 362.0,382.7 369.4,381.6C376.9,380.4 392.3,380.6 402.1,380.9C411.9,381.2 420.8,382.3 428.2,383.4C435.7,384.6 443.0,384.6 446.7,387.8C450.4,391.0 449.8,396.1 450.4,402.7C451.1,409.4 451.1,421.2 450.6,427.7C450.2,434.1 451.6,438.7 447.8,441.4C444.1,444.0 435.1,443.8 428.2,443.7C421.3,443.6 415.5,441.5 406.5,440.7C397.4,440.0 381.8,440.4 373.8,439.2C365.8,438.1 361.5,438.9 358.6,433.9C355.7,428.8 356.6,416.7 356.4,409.0Z"/>
<path fill="#21908d" d="M297.6,384.0C302.4,387.2 299.7,395.5 300.2,402.7C300.8,410.0 300.9,419.4 300.9,427.7C300.9,436.0 300.8,446.3 300.2,452.6C299.7,458.8 302.4,463.0 297.6,465.0C292.8,467.1 271.5,465.0 271.5,465.0L271.5,384.0C271.5,384.0 292.8,380.9 297.6,384.0Z"/>
<path fill="#21908d" d="M515.3,409.0C510.4,411.0 512.9,416.9 512.0,421.4C511.1,426.0 511.1,431.8 509.9,436.4C508.6,441.0 506.3,445.0 504.6,449.1C503.0,453.2 502.1,457.6 500.1,460.9C498.1,464.3 496.1,466.6 492.7,469.2C489.2,471.7 481.6,475.0 479.2,476.4C476.8,477.8 478.4,474.8 478.3,477.5C478.1,480.2 478.3,492.5 478.3,492.5L541.4,492.5L541.4,409.0C541.4,409.0 520.2,406.9 515.3,409.0Z"/>
<path fill="#297b8e" d="M360.7,409.0C360.6,402.3 360.0,394.3 361.8,390.3C363.6,386.2 364.9,385.7 371.6,384.7C378.3,383.6 392.7,383.7 402.1,384.0C411.5,384.4 421.5,385.5 428.2,386.5C434.9,387.6 439.4,387.6 442.4,390.3C445.4,393.0 445.6,396.5 446.3,402.7C447.0,409.0 447.0,421.8 446.5,427.7C446.0,433.5 446.5,435.5 443.5,437.6C440.4,439.7 434.4,440.5 428.2,440.4C422.1,440.3 415.2,437.8 406.5,437.0C397.7,436.2 383.2,436.7 376.0,435.5C368.7,434.4 365.4,434.6 362.9,430.2C360.4,425.7 360.9,415.6 360.7,409.0Z"/>
<path fill="#297b8e" d="M297.6,431.4C302.2,432.9 299.1,436.6 299.3,440.1C299.6,443.7 299.6,449.9 299.3,452.6C299.1,455.3 302.2,455.7 297.6,456.3C293.0,456.9 271.5,456.3 271.5,456.3L271.5,431.4C271.5,431.4 293.0,429.9 297.6,431.4Z"/>
<path fill="#297b8e" d="M515.3,445.1C510.4,447.3 513.3,454.7 511.8,458.2C510.3,461.7 508.8,463.9 506.4,466.3C503.9,468.7 500.6,470.9 497.2,472.8C493.9,474.6 488.2,474.2 486.3,477.5C484.5,480.8 486.3,492.5 486.3,492.5L541.4,492.5L541.4,445.1C541.4,445.1 520.2,442.9 515.3,445.1Z"/>
<path fill="#34618d" d="M364.0,409.0C363.8,403.2 363.5,396.4 365.1,392.8C366.7,389.1 367.6,388.3 373.8,387.2C380.0,386.1 393.8,385.9 402.1,386.2C410.4,386.4 417.9,387.6 423.9,388.8C429.9,390.0 434.9,391.1 438.0,393.4C441.1,395.7 441.6,397.4 442.4,402.7C443.1,408.0 443.0,419.9 442.6,425.2C442.2,430.5 442.6,432.6 440.2,434.5C437.8,436.5 433.8,437.1 428.2,436.9C422.6,436.7 414.8,434.1 406.5,433.3C398.1,432.5 384.9,433.0 378.1,432.0C371.4,431.1 368.5,431.5 366.2,427.7C363.8,423.8 364.2,414.8 364.0,409.0Z"/>
<path fill="#34618d" d="M515.3,460.9C509.9,462.1 511.5,466.0 509.2,468.2C507.0,470.3 504.6,472.1 501.8,473.6C499.0,475.2 494.2,474.4 492.7,477.5C491.1,480.6 492.7,492.5 492.7,492.5L541.4,492.5L541.4,460.9C541.4,460.9 520.7,459.7 515.3,460.9Z"/>
<path fill="#472c7a" d="M396.9,415.2C396.9,413.0 397.6,411.8 399.9,410.8C402.2,409.9 407.0,409.6 410.8,409.6C414.6,409.6 420.1,409.5 422.8,410.8C425.4,412.2 426.7,415.4 426.7,417.7C426.7,420.0 425.4,423.2 422.8,424.5C420.1,425.9 414.6,425.6 410.8,425.5C407.0,425.4 402.2,425.6 399.9,423.9C397.6,422.2 396.9,417.4 396.9,415.2Z"/>
<path fill="#472c7a" d="M515.3,469.0C510.1,469.7 512.5,471.4 510.1,472.8C507.7,474.2 502.5,474.2 500.9,477.5C499.4,480.8 500.9,492.5 500.9,492.5L541.4,492.5L541.4,469.0C541.4,469.0 520.5,468.4 515.3,469.0Z"/>
<path fill="#3aba76" d="M304.1,365.4C305.2,359.2 308.8,355.6 315.0,353.5C321.2,351.4 331.3,352.7 341.1,352.9C350.9,353.1 364.7,353.8 373.8,354.8C382.9,355.7 387.9,356.9 395.6,358.5C403.2,360.1 413.5,362.7 419.5,364.1C425.6,365.6 431.2,366.2 431.9,367.2C432.6,368.3 428.1,369.3 423.9,370.3C419.6,371.3 413.0,372.3 406.5,373.2C399.9,374.1 391.9,374.9 384.7,376.0C377.4,377.0 368.4,378.1 362.9,379.7C357.5,381.2 354.6,381.5 352.0,385.3C349.5,389.1 348.8,396.7 347.7,402.7C346.6,408.8 346.6,415.8 345.5,421.4C344.4,427.0 340.1,432.4 341.1,436.4C342.2,440.3 344.8,443.1 352.0,445.1C359.3,447.1 373.8,447.5 384.7,448.2C395.6,448.9 409.4,448.3 417.3,449.5C425.3,450.6 430.0,452.1 432.6,455.1C435.1,458.1 435.1,464.4 432.6,467.5C430.0,470.6 428.9,472.5 417.3,473.8C405.7,475.0 379.2,475.0 362.9,475.0C346.6,475.0 328.4,475.4 319.4,473.8C310.3,472.1 310.7,469.6 308.5,465.0C306.3,460.5 306.5,453.6 306.3,446.3C306.1,439.1 307.0,430.8 307.4,421.4C307.8,412.1 309.0,399.6 308.5,390.3C307.9,380.9 303.0,371.5 304.1,365.4Z"/>
<path fill="#3aba76" d="M459.1,409.0C459.0,404.0 459.8,398.0 461.3,394.0C462.9,390.1 467.5,388.4 468.5,385.3C469.5,382.2 467.4,378.1 467.4,375.3C467.4,372.5 466.7,369.9 468.5,368.5C470.3,367.0 474.1,366.8 478.3,366.6C482.5,366.4 490.1,366.2 493.5,367.2C497.0,368.3 497.8,370.2 499.0,372.8C500.1,375.4 499.2,379.5 500.5,382.8C501.8,386.1 505.6,388.4 507.0,392.8C508.5,397.1 509.2,403.6 509.2,409.0C509.2,414.4 508.6,421.1 507.0,425.2C505.5,429.2 503.0,431.5 500.1,433.3C497.1,435.0 493.9,435.8 489.2,435.8C484.5,435.8 476.3,435.2 471.8,433.3C467.2,431.3 464.1,428.0 462.0,423.9C459.9,419.9 459.2,414.0 459.1,409.0Z"/>
<path fill="#56c667" d="M305.2,365.4C305.9,362.0 304.7,356.2 310.7,354.1C316.6,352.1 331.3,352.5 341.1,352.9C350.9,353.3 363.0,355.5 369.4,356.6C375.9,357.8 375.5,358.9 379.9,360.0C384.2,361.1 390.9,361.8 395.6,363.0C400.2,364.2 408.0,365.5 408.0,367.0C408.0,368.5 400.2,370.9 395.6,372.1C390.9,373.3 385.3,373.3 379.9,374.1C374.4,374.8 368.6,375.3 362.9,376.6C357.2,377.8 349.7,379.3 345.5,381.6C341.2,383.8 338.5,387.4 337.4,390.3C336.4,393.2 338.2,395.3 339.0,399.0C339.7,402.7 341.8,408.3 341.8,412.7C341.8,417.1 341.8,422.4 339.0,425.2C336.1,428.0 329.2,429.5 324.8,429.5C320.5,429.5 315.1,427.6 312.8,425.2C310.6,422.8 310.9,418.9 311.1,415.2C311.3,411.5 312.4,406.1 313.9,402.7C315.5,399.4 319.6,397.8 320.5,395.3C321.4,392.8 321.0,390.1 319.4,387.8C317.7,385.5 312.8,383.8 310.7,381.6C308.5,379.3 307.2,376.8 306.3,374.1C305.4,371.4 304.5,368.7 305.2,365.4Z"/>
<path fill="#56c667" d="M463.5,409.0C463.5,404.6 463.9,399.7 466.3,396.5C468.8,393.3 474.5,391.0 478.3,389.7C482.1,388.3 485.7,388.3 489.2,388.4C492.6,388.5 496.3,388.3 499.0,390.3C501.7,392.3 504.1,396.5 505.5,400.2C506.9,404.0 507.4,408.8 507.2,412.7C507.1,416.7 506.7,421.1 504.4,423.9C502.1,426.7 497.9,428.6 493.5,429.5C489.2,430.5 482.8,430.7 478.3,429.5C473.8,428.4 468.8,426.1 466.3,422.7C463.9,419.2 463.5,413.3 463.5,409.0Z"/>
<path fill="#56c667" d="M489.0,375.1C489.0,374.8 488.9,374.4 488.8,374.1C488.6,373.8 488.4,373.5 488.2,373.3C488.0,373.1 487.7,372.9 487.3,372.8C487.0,372.7 486.7,372.6 486.3,372.6C486.0,372.6 485.7,372.7 485.3,372.8C485.0,372.9 484.7,373.1 484.5,373.3C484.3,373.5 484.1,373.8 483.9,374.1C483.8,374.4 483.7,374.8 483.7,375.1C483.7,375.4 483.8,375.7 483.9,376.0C484.1,376.3 484.3,376.6 484.5,376.8C484.7,377.1 485.0,377.3 485.3,377.4C485.7,377.5 486.0,377.6 486.3,377.6C486.7,377.6 487.0,377.5 487.3,377.4C487.7,377.3 488.0,377.1 488.2,376.8C488.4,376.6 488.6,376.3 488.8,376.0C488.9,375.7 489.0,375.4 489.0,375.1Z"/>
<path fill="#56c667" d="M317.2,461.3C316.8,459.2 315.4,456.0 319.4,454.7C323.4,453.3 332.1,453.3 341.1,453.2C350.2,453.1 364.7,453.6 373.8,453.8C382.9,454.0 386.5,453.8 395.6,454.4C404.6,455.1 422.4,455.8 428.2,457.6C434.0,459.3 432.2,463.1 430.4,465.0C428.6,467.0 425.0,468.2 417.3,469.0C409.7,469.9 397.4,470.0 384.7,470.0C372.0,470.1 351.7,469.8 341.1,469.4C330.6,469.0 325.5,468.9 321.5,467.5C317.6,466.2 317.6,463.4 317.2,461.3Z"/>
<path fill="#b0dd2f" d="M307.4,362.6C308.0,360.0 307.8,357.8 312.2,356.5C316.6,355.2 326.3,354.7 334.0,354.9C341.6,355.1 350.9,356.7 358.1,357.8C365.4,358.8 373.4,360.2 377.5,361.4C381.6,362.6 382.9,363.4 382.5,365.0C382.1,366.6 379.2,369.1 375.1,371.1C371.0,373.1 364.6,375.3 358.1,377.1C351.7,378.9 343.2,381.5 336.4,381.9C329.5,382.3 321.6,381.2 317.0,379.6C312.3,377.9 310.1,375.0 308.5,372.2C306.9,369.4 306.8,365.2 307.4,362.6Z"/>
<path fill="#b0dd2f" d="M338.1,413.0C338.1,411.4 337.7,409.8 337.1,408.4C336.4,407.0 335.4,405.7 334.1,404.6C332.9,403.5 331.4,402.6 329.8,402.0C328.2,401.4 326.3,401.1 324.6,401.1C322.9,401.1 321.0,401.4 319.4,402.0C317.8,402.6 316.3,403.5 315.1,404.6C313.8,405.7 312.8,407.0 312.1,408.4C311.5,409.8 311.1,411.4 311.1,413.0C311.1,414.5 311.5,416.1 312.1,417.5C312.8,418.9 313.8,420.3 315.1,421.3C316.3,422.4 317.8,423.3 319.4,423.9C321.0,424.5 322.9,424.8 324.6,424.8C326.3,424.8 328.2,424.5 329.8,423.9C331.4,423.3 332.9,422.4 334.1,421.3C335.4,420.3 336.4,418.9 337.1,417.5C337.7,416.1 338.1,414.5 338.1,413.0Z"/>
<path fill="#b0dd2f" d="M506.6,410.8C506.6,408.8 506.1,406.7 505.2,404.8C504.3,403.0 502.9,401.2 501.2,399.7C499.6,398.3 497.5,397.1 495.3,396.3C493.1,395.6 490.6,395.1 488.3,395.1C486.0,395.1 483.5,395.6 481.3,396.3C479.2,397.1 477.0,398.3 475.4,399.7C473.7,401.2 472.3,403.0 471.4,404.8C470.5,406.7 470.0,408.8 470.0,410.8C470.0,412.8 470.5,415.0 471.4,416.8C472.3,418.7 473.7,420.5 475.4,421.9C477.0,423.4 479.2,424.6 481.3,425.3C483.5,426.1 486.0,426.5 488.3,426.5C490.6,426.5 493.1,426.1 495.3,425.3C497.5,424.6 499.6,423.4 501.2,421.9C502.9,420.5 504.3,418.7 505.2,416.8C506.1,415.0 506.6,412.8 506.6,410.8Z"/>
</g>
<rect x="297.6" y="352.9" width="217.7" height="124.6" fill="none" stroke="#333" stroke-opacity="0.55" stroke-width="0.5"/>
<path d="M297.6,477.50h-1.6M297.60,477.5v1.6M297.6,452.58h-1.6M341.14,477.5v1.6M297.6,427.66h-1.6M384.68,477.5v1.6M297.6,402.74h-1.6M428.22,477.5v1.6M297.6,377.82h-1.6M471.76,477.5v1.6M297.6,352.90h-1.6M515.30,477.5v1.6" stroke="#555" stroke-width="0.4" fill="none"/>
<rect x="529.345" y="463.66" width="6.01935" height="14.14" fill="#472c7a"/>
<rect x="529.345" y="449.81" width="6.01935" height="14.14" fill="#34618d"/>
<rect x="529.345" y="435.97" width="6.01935" height="14.14" fill="#297b8e"/>
<rect x="529.345" y="422.12" width="6.01935" height="14.14" fill="#21908d"/>
<rect x="529.345" y="408.28" width="6.01935" height="14.14" fill="#1fa187"/>
<rect x="529.345" y="394.43" width="6.01935" height="14.14" fill="#28ae80"/>
<rect x="529.345" y="380.59" width="6.01935" height="14.14" fill="#3aba76"/>
<rect x="529.345" y="366.74" width="6.01935" height="14.14" fill="#56c667"/>
<rect x="529.345" y="352.90" width="6.01935" height="14.14" fill="#b0dd2f"/>
<text x="126.5" y="9.0" text-anchor="middle" class="tt">P-24</text>
<text x="15.6" y="136.1" text-anchor="end" class="tk">0.0</text>
<text x="17.8" y="139.8" text-anchor="middle" class="tk">0.0</text>
<text x="15.6" y="111.2" text-anchor="end" class="tk">0.2</text>
<text x="61.3" y="139.8" text-anchor="middle" class="tk">0.2</text>
<text x="15.6" y="86.4" text-anchor="end" class="tk">0.4</text>
<text x="104.7" y="139.8" text-anchor="middle" class="tk">0.4</text>
<text x="15.6" y="61.5" text-anchor="end" class="tk">0.6</text>
<text x="148.2" y="139.8" text-anchor="middle" class="tk">0.6</text>
<text x="15.6" y="36.7" text-anchor="end" class="tk">0.8</text>
<text x="191.6" y="139.8" text-anchor="middle" class="tk">0.8</text>
<text x="15.6" y="11.8" text-anchor="end" class="tk">1.0</text>
<text x="235.1" y="139.8" text-anchor="middle" class="tk">1.0</text>
<text x="126.5" y="145.3" text-anchor="middle" class="tk">X</text>
<text x="0" y="0" text-anchor="middle" class="tk" transform="translate(8.3,72.2) rotate(-90)">Y</text>
<text x="256.3" y="136.1" class="tk">0.06</text>
<text x="256.3" y="122.3" class="tk">0.18</text>
<text x="256.3" y="108.5" class="tk">0.24</text>
<text x="256.3" y="94.7" class="tk">0.29</text>
<text x="256.3" y="80.9" class="tk">0.34</text>
<text x="256.3" y="67.0" class="tk">0.40</text>
<text x="256.3" y="53.2" class="tk">0.45</text>
<text x="256.3" y="39.4" class="tk">0.51</text>
<text x="256.3" y="25.6" class="tk">0.59</text>
<text x="256.3" y="11.8" class="tk">0.75</text>
<text x="406.9" y="8.6" text-anchor="middle" class="tt">P-60</text>
<text x="296.4" y="135.2" text-anchor="end" class="tk">0.0</text>
<text x="298.6" y="138.9" text-anchor="middle" class="tk">0.0</text>
<text x="296.4" y="110.4" text-anchor="end" class="tk">0.2</text>
<text x="341.9" y="138.9" text-anchor="middle" class="tk">0.2</text>
<text x="296.4" y="85.7" text-anchor="end" class="tk">0.4</text>
<text x="385.2" y="138.9" text-anchor="middle" class="tk">0.4</text>
<text x="296.4" y="60.9" text-anchor="end" class="tk">0.6</text>
<text x="428.5" y="138.9" text-anchor="middle" class="tk">0.6</text>
<text x="296.4" y="36.2" text-anchor="end" class="tk">0.8</text>
<text x="471.8" y="138.9" text-anchor="middle" class="tk">0.8</text>
<text x="296.4" y="11.4" text-anchor="end" class="tk">1.0</text>
<text x="515.1" y="138.9" text-anchor="middle" class="tk">1.0</text>
<text x="406.9" y="144.4" text-anchor="middle" class="tk">X</text>
<text x="0" y="0" text-anchor="middle" class="tk" transform="translate(289.1,71.5) rotate(-90)">Y</text>
<text x="536.3" y="135.2" class="tk">0.08</text>
<text x="536.3" y="121.4" class="tk">0.20</text>
<text x="536.3" y="107.7" class="tk">0.32</text>
<text x="536.3" y="93.9" class="tk">0.43</text>
<text x="536.3" y="80.2" class="tk">0.54</text>
<text x="536.3" y="66.4" class="tk">0.67</text>
<text x="536.3" y="52.7" class="tk">0.76</text>
<text x="536.3" y="38.9" class="tk">0.97</text>
<text x="536.3" y="25.2" class="tk">1.22</text>
<text x="536.3" y="11.4" class="tk">1.49</text>
<text x="126.5" y="180.8" text-anchor="middle" class="tt">F-24</text>
<text x="15.0" y="308.5" text-anchor="end" class="tk">0.0</text>
<text x="17.2" y="312.2" text-anchor="middle" class="tk">0.0</text>
<text x="15.0" y="283.5" text-anchor="end" class="tk">0.2</text>
<text x="60.9" y="312.2" text-anchor="middle" class="tk">0.2</text>
<text x="15.0" y="258.5" text-anchor="end" class="tk">0.4</text>
<text x="104.6" y="312.2" text-anchor="middle" class="tk">0.4</text>
<text x="15.0" y="233.6" text-anchor="end" class="tk">0.6</text>
<text x="148.3" y="312.2" text-anchor="middle" class="tk">0.6</text>
<text x="15.0" y="208.6" text-anchor="end" class="tk">0.8</text>
<text x="192.0" y="312.2" text-anchor="middle" class="tk">0.8</text>
<text x="15.0" y="183.6" text-anchor="end" class="tk">1.0</text>
<text x="235.7" y="312.2" text-anchor="middle" class="tk">1.0</text>
<text x="126.5" y="317.7" text-anchor="middle" class="tk">X</text>
<text x="0" y="0" text-anchor="middle" class="tk" transform="translate(7.7,244.2) rotate(-90)">Y</text>
<text x="257.0" y="308.5" class="tk">0.08</text>
<text x="257.0" y="294.6" class="tk">0.19</text>
<text x="257.0" y="280.7" class="tk">0.26</text>
<text x="257.0" y="266.9" class="tk">0.33</text>
<text x="257.0" y="253.0" class="tk">0.40</text>
<text x="257.0" y="239.1" class="tk">0.48</text>
<text x="257.0" y="225.2" class="tk">0.55</text>
<text x="257.0" y="211.4" class="tk">0.61</text>
<text x="257.0" y="197.5" class="tk">0.67</text>
<text x="257.0" y="183.6" class="tk">0.79</text>
<text x="406.4" y="180.8" text-anchor="middle" class="tt">F-60</text>
<text x="295.6" y="307.6" text-anchor="end" class="tk">0.0</text>
<text x="297.8" y="311.3" text-anchor="middle" class="tk">0.0</text>
<text x="295.6" y="282.8" text-anchor="end" class="tk">0.2</text>
<text x="341.2" y="311.3" text-anchor="middle" class="tk">0.2</text>
<text x="295.6" y="258.0" text-anchor="end" class="tk">0.4</text>
<text x="384.6" y="311.3" text-anchor="middle" class="tk">0.4</text>
<text x="295.6" y="233.2" text-anchor="end" class="tk">0.6</text>
<text x="428.1" y="311.3" text-anchor="middle" class="tk">0.6</text>
<text x="295.6" y="208.4" text-anchor="end" class="tk">0.8</text>
<text x="471.5" y="311.3" text-anchor="middle" class="tk">0.8</text>
<text x="295.6" y="183.6" text-anchor="end" class="tk">1.0</text>
<text x="514.9" y="311.3" text-anchor="middle" class="tk">1.0</text>
<text x="406.4" y="316.8" text-anchor="middle" class="tk">X</text>
<text x="0" y="0" text-anchor="middle" class="tk" transform="translate(288.3,243.8) rotate(-90)">Y</text>
<text x="536.1" y="307.6" class="tk">0.07</text>
<text x="536.1" y="293.8" class="tk">0.18</text>
<text x="536.1" y="280.0" class="tk">0.27</text>
<text x="536.1" y="266.3" class="tk">0.36</text>
<text x="536.1" y="252.5" class="tk">0.51</text>
<text x="536.1" y="238.7" class="tk">0.67</text>
<text x="536.1" y="224.9" class="tk">0.84</text>
<text x="536.1" y="211.2" class="tk">0.99</text>
<text x="536.1" y="197.4" class="tk">1.13</text>
<text x="536.1" y="183.6" class="tk">1.25</text>
<text x="126.5" y="352.3" text-anchor="middle" class="tt">E-24</text>
<text x="14.6" y="481.4" text-anchor="end" class="tk">0.0</text>
<text x="16.8" y="485.1" text-anchor="middle" class="tk">0.0</text>
<text x="14.6" y="456.1" text-anchor="end" class="tk">0.2</text>
<text x="60.7" y="485.1" text-anchor="middle" class="tk">0.2</text>
<text x="14.6" y="430.9" text-anchor="end" class="tk">0.4</text>
<text x="104.6" y="485.1" text-anchor="middle" class="tk">0.4</text>
<text x="14.6" y="405.6" text-anchor="end" class="tk">0.6</text>
<text x="148.4" y="485.1" text-anchor="middle" class="tk">0.6</text>
<text x="14.6" y="380.4" text-anchor="end" class="tk">0.8</text>
<text x="192.3" y="485.1" text-anchor="middle" class="tk">0.8</text>
<text x="14.6" y="355.1" text-anchor="end" class="tk">1.0</text>
<text x="236.2" y="485.1" text-anchor="middle" class="tk">1.0</text>
<text x="126.5" y="490.6" text-anchor="middle" class="tk">X</text>
<text x="0" y="0" text-anchor="middle" class="tk" transform="translate(7.3,416.4) rotate(-90)">Y</text>
<text x="257.6" y="481.4" class="tk">0.12</text>
<text x="257.6" y="467.4" class="tk">0.31</text>
<text x="257.6" y="453.3" class="tk">0.44</text>
<text x="257.6" y="439.3" class="tk">0.50</text>
<text x="257.6" y="425.3" class="tk">0.56</text>
<text x="257.6" y="411.2" class="tk">0.60</text>
<text x="257.6" y="397.2" class="tk">0.64</text>
<text x="257.6" y="383.2" class="tk">0.69</text>
<text x="257.6" y="369.1" class="tk">0.74</text>
<text x="257.6" y="355.1" class="tk">1.03</text>
<text x="406.5" y="351.9" text-anchor="middle" class="tt">E-60</text>
<text x="295.4" y="479.3" text-anchor="end" class="tk">0.0</text>
<text x="297.6" y="483.0" text-anchor="middle" class="tk">0.0</text>
<text x="295.4" y="454.4" text-anchor="end" class="tk">0.2</text>
<text x="341.1" y="483.0" text-anchor="middle" class="tk">0.2</text>
<text x="295.4" y="429.5" text-anchor="end" class="tk">0.4</text>
<text x="384.7" y="483.0" text-anchor="middle" class="tk">0.4</text>
<text x="295.4" y="404.5" text-anchor="end" class="tk">0.6</text>
<text x="428.2" y="483.0" text-anchor="middle" class="tk">0.6</text>
<text x="295.4" y="379.6" text-anchor="end" class="tk">0.8</text>
<text x="471.8" y="483.0" text-anchor="middle" class="tk">0.8</text>
<text x="295.4" y="354.7" text-anchor="end" class="tk">1.0</text>
<text x="515.3" y="483.0" text-anchor="middle" class="tk">1.0</text>
<text x="406.5" y="488.5" text-anchor="middle" class="tk">X</text>
<text x="0" y="0" text-anchor="middle" class="tk" transform="translate(288.1,415.2) rotate(-90)">Y</text>
<text x="536.6" y="479.3" class="tk">0.17</text>
<text x="536.6" y="465.5" class="tk">0.41</text>
<text x="536.6" y="451.6" class="tk">0.53</text>
<text x="536.6" y="437.8" class="tk">0.62</text>
<text x="536.6" y="423.9" class="tk">0.70</text>
<text x="536.6" y="410.1" class="tk">0.76</text>
<text x="536.6" y="396.2" class="tk">0.81</text>
<text x="536.6" y="382.4" class="tk">0.86</text>
<text x="536.6" y="368.5" class="tk">0.92</text>
<text x="536.6" y="354.7" class="tk">1.15</text>
</svg>
<div class="cap" style="left:18px;top:154.3px;width:237px">(<b>a</b>) Powder Epoxy Coating (24 months)</div>
<div class="cap" style="left:299px;top:154.3px;width:237px">(<b>a&#8242;</b>) Powder Epoxy Coating (60 months)</div>
<div class="cap" style="left:18px;top:326.3px;width:237px">(<b>b</b>) Fluorocarbon Coating (24 months)</div>
<div class="cap" style="left:299px;top:326.3px;width:237px">(<b>b&#8242;</b>) Fluorocarbon Coating (60 months)</div>
<div class="cap" style="left:18px;top:498.3px;width:237px">(<b>c</b>) Epoxy Coating (24 months)</div>
<div class="cap" style="left:299px;top:498.3px;width:237px">(<b>c&#8242;</b>) Epoxy Coating (60 months)</div>
</body></html>
